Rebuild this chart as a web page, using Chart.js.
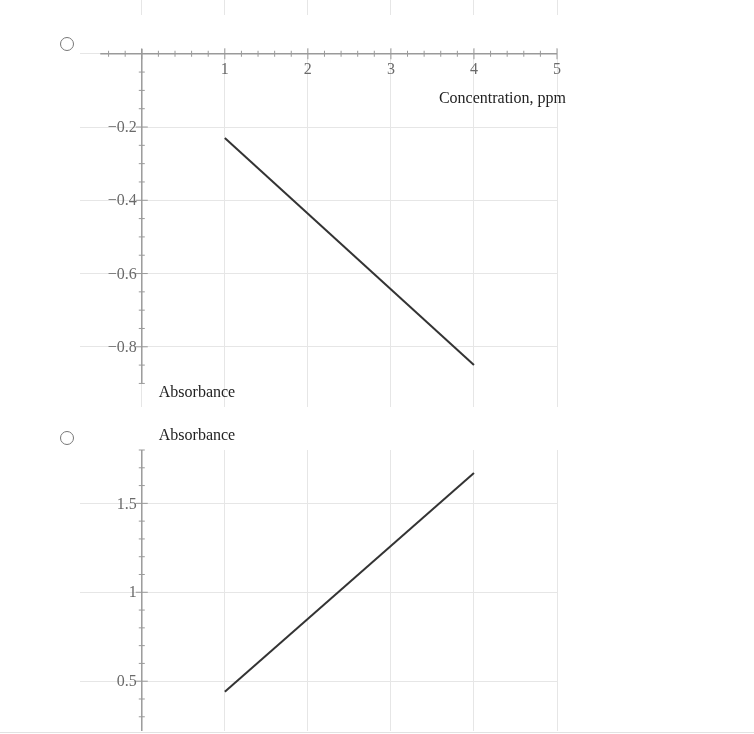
<!DOCTYPE html>
<html>
<head>
<meta charset="utf-8">
<script src="https://cdn.jsdelivr.net/npm/chart.js@4/dist/chart.umd.min.js"></script>
<style>
  body { margin: 0; background: #fff; }
  #page { position: relative; width: 754px; height: 734px; overflow: hidden; }
  canvas { position: absolute; left: 0; }
  .radio { position: absolute; width: 14px; height: 14px; border: 1px solid #777; border-radius: 50%; box-sizing: border-box; }
  .sep { position: absolute; left: 0; top: 732px; width: 754px; height: 1px; background: #e2e2e2; }
</style>
</head>
<body>
<div id="page">
  <canvas id="stripChart" width="754" height="15" style="top:0"></canvas>
  <canvas id="topChart" width="754" height="420" style="top:0"></canvas>
  <canvas id="bottomChart" width="754" height="314" style="top:420px"></canvas>
  <div class="radio" style="left:60px;top:37px"></div>
  <div class="radio" style="left:60px;top:431px"></div>
  <div class="sep"></div>
</div>
<script>
// concentration (ppm) at the two ends of each line
const concentrations = [1, 4];
// option A: negative absorbance
const absorbanceDown = [-0.23, -0.85];
// option B: positive absorbance
const absorbanceUp = [0.44, 1.67];

const xTickLabels = [1, 2, 3, 4, 5];
const xGridValues = [0, 1, 2, 3, 4, 5];
const yTicksTop = [-0.2, -0.4, -0.6, -0.8];
const yGridTop = [0, -0.2, -0.4, -0.6, -0.8];
const yTicksBottom = [0.5, 1, 1.5];

const xAxisTitle = 'Concentration, ppm';
const yAxisTitle = 'Absorbance';

const gridColor = '#e6e6e6';
const axisColor = '#9a9a9a';
const labelColor = '#6a6a6a';
const textColor = '#222';
const serif = '"Liberation Serif", "Times New Roman", serif';

function fmt(v) {
    const s = String(Math.abs(v));
    return v < 0 ? '\u2212' + s : s;
}

// draws axes through the origin, minor ticks, tick labels and titles
const axesPlugin = {
    id: 'axes',
    afterDatasetsDraw(chart, args, o) {
        const ctx = chart.ctx;
        const x = chart.scales.x, y = chart.scales.y;
        const x0 = x.getPixelForValue(0);
        ctx.save();
        ctx.strokeStyle = axisColor;
        ctx.lineWidth = 1.5;

        // y axis
        ctx.beginPath();
        ctx.moveTo(x0, y.getPixelForValue(o.yAxis[0]));
        ctx.lineTo(x0, y.getPixelForValue(o.yAxis[1]));
        ctx.stroke();

        // y minor / major ticks
        ctx.lineWidth = 1;
        for (let i = Math.ceil(o.yAxis[0] / o.yMinor - 1e-9); i * o.yMinor <= o.yAxis[1] + 1e-9; i++) {
            const v = i * o.yMinor;
            if (Math.abs(v) < 1e-9 && o.xAxis) continue;
            const major = o.yTicks.some(t => Math.abs(t - v) < 1e-9);
            const len = major ? 6 : 3;
            const py = y.getPixelForValue(v);
            ctx.beginPath();
            ctx.moveTo(x0 - len, py);
            ctx.lineTo(x0 + len, py);
            ctx.stroke();
        }

        ctx.font = '16px ' + serif;
        ctx.fillStyle = labelColor;
        ctx.textAlign = 'right';
        ctx.textBaseline = 'middle';
        o.yTicks.forEach(v => {
            ctx.fillText(fmt(v), x0 - 5, y.getPixelForValue(v) + 1);
        });

        if (o.xAxis) {
            const y0 = y.getPixelForValue(0);
            ctx.lineWidth = 1.5;
            ctx.beginPath();
            ctx.moveTo(x.getPixelForValue(o.xAxis[0]), y0);
            ctx.lineTo(x.getPixelForValue(o.xAxis[1]), y0);
            ctx.stroke();
            ctx.lineWidth = 1;
            for (let i = Math.ceil(o.xAxis[0] / o.xMinor - 1e-9); i * o.xMinor <= o.xAxis[1] + 1e-9; i++) {
                const v = i * o.xMinor;
                const major = Math.abs(v - Math.round(v)) < 1e-9;
                const len = major ? 5.5 : 3;
                const px = x.getPixelForValue(v);
                ctx.beginPath();
                ctx.moveTo(px, y0 - len);
                ctx.lineTo(px, y0 + len);
                ctx.stroke();
            }
            ctx.textAlign = 'center';
            xTickLabels.forEach(v => {
                ctx.fillText(fmt(v), x.getPixelForValue(v), y0 + 16);
            });
            ctx.fillStyle = textColor;
            ctx.textAlign = 'right';
            ctx.fillText(xAxisTitle, x.getPixelForValue(5) + 9, y0 + 45);
        }

        ctx.fillStyle = textColor;
        ctx.textAlign = 'left';
        ctx.textBaseline = 'middle';
        const ty = o.titleAtTop ? chart.chartArea.top - 14 : chart.chartArea.bottom - 14;
        ctx.fillText(yAxisTitle, x0 + 17, ty);
        ctx.restore();
    }
};

function gridScale(min, max, values) {
    return {
        type: 'linear',
        min: min,
        max: max,
        afterBuildTicks: s => { s.ticks = values.map(v => ({ value: v })); },
        ticks: { display: false },
        grid: { color: gridColor, lineWidth: 1, drawTicks: false },
        border: { display: false }
    };
}

function makeChart(id, values, yMin, yMax, yGrid, padding, axes) {
    return new Chart(document.getElementById(id), {
        type: 'line',
        data: {
            datasets: values ? [{
                data: concentrations.map((c, i) => ({ x: c, y: values[i] })),
                borderColor: '#333',
                borderWidth: 2,
                pointRadius: 0,
                fill: false
            }] : []
        },
        options: {
            responsive: false,
            animation: false,
            layout: { padding: padding },
            scales: {
                x: gridScale(-0.75, 5, xGridValues),
                y: gridScale(yMin, yMax, yGrid)
            },
            plugins: {
                legend: { display: false },
                tooltip: { enabled: false },
                axes: axes
            }
        },
        plugins: axes ? [axesPlugin] : []
    });
}

// cut-off grid of the previous option at the very top
makeChart('stripChart', null, 0, 1, [], { left: 79.5, right: 197, top: 0, bottom: 0 }, null);

makeChart('topChart', absorbanceDown, -0.963, 0.013, yGridTop,
    { left: 79.5, right: 197, top: 49, bottom: 13.5 },
    { yAxis: [-0.9, 0.013], yMinor: 0.05, yTicks: yTicksTop, xAxis: [-0.5, 5], xMinor: 0.2, titleAtTop: false });

makeChart('bottomChart', absorbanceUp, 0.22, 1.8, yTicksBottom,
    { left: 79.5, right: 197, top: 30, bottom: 3 },
    { yAxis: [0.22, 1.8], yMinor: 0.1, yTicks: yTicksBottom, xAxis: null, titleAtTop: true });
</script>
</body>
</html>
